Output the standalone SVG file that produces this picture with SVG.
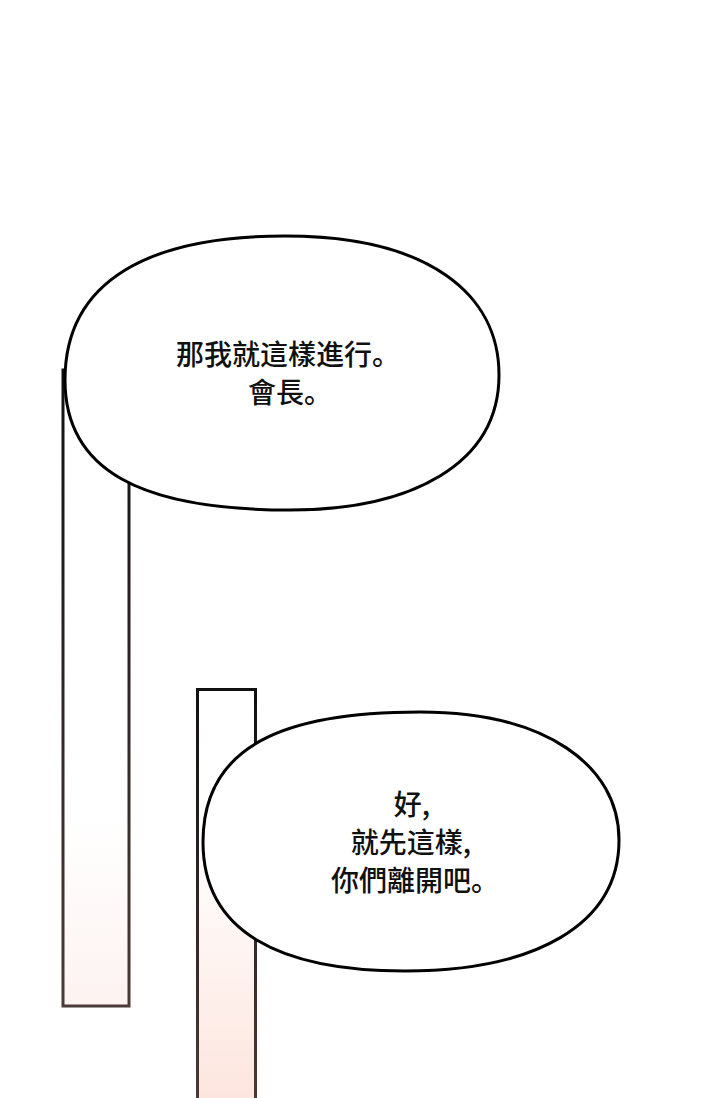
<svg xmlns="http://www.w3.org/2000/svg" width="720" height="1098" viewBox="0 0 720 1098">
<defs>
<linearGradient id="gLeft" x1="0" y1="0" x2="0" y2="1">
<stop offset="0" stop-color="#ffffff"/>
<stop offset="0.7" stop-color="#ffffff"/>
<stop offset="1" stop-color="#fdf3f1"/>
</linearGradient>
<linearGradient id="gRight" x1="0" y1="0" x2="0" y2="1">
<stop offset="0" stop-color="#ffffff"/>
<stop offset="0.35" stop-color="#ffffff"/>
<stop offset="1" stop-color="#fde4dd"/>
</linearGradient>
<linearGradient id="gStroke" x1="0" y1="0" x2="0" y2="1">
<stop offset="0" stop-color="#111111"/>
<stop offset="1" stop-color="#4a3a38"/>
</linearGradient>
</defs>
<style>
.strip{stroke-width:3;}
.bubble{fill:#ffffff;stroke:#000000;stroke-width:3;}
.txt{font-family:"Noto Sans CJK SC","Noto Sans CJK TC",sans-serif;font-size:28px;font-weight:500;fill:#111111;text-anchor:middle;}
</style>
<rect width="720" height="1098" fill="#ffffff"/>
<g id="strip-left">
<rect class="strip" x="63" y="370" width="66" height="636" fill="url(#gLeft)" stroke="url(#gStroke)"/>
</g>
<g id="strip-right">
<rect class="strip" x="197.5" y="689.5" width="58" height="420" fill="url(#gRight)" stroke="url(#gStroke)"/>
</g>
<g id="bubble-1">
<path class="bubble" d="M 65,380 C 65,280 150,236 285,236 C 430,236 499,295 499,375 C 499,465 410,510 290,510 C 140,510 65,470 65,380 Z"/>
<text class="txt" x="288" y="365">那我就這樣進行。</text>
<text class="txt" x="290" y="403">會長。</text>
</g>
<g id="bubble-2">
<path class="bubble" d="M 203,842 C 203,745 285,712 420,712 C 545,712 619,765 619,840 C 619,925 535,971 405,971 C 280,971 203,932 203,842 Z"/>
<text class="txt" x="412" y="815">好,</text>
<text class="txt" x="411" y="853">就先這樣,</text>
<text class="txt" x="415" y="891">你們離開吧。</text>
</g>
</svg>
